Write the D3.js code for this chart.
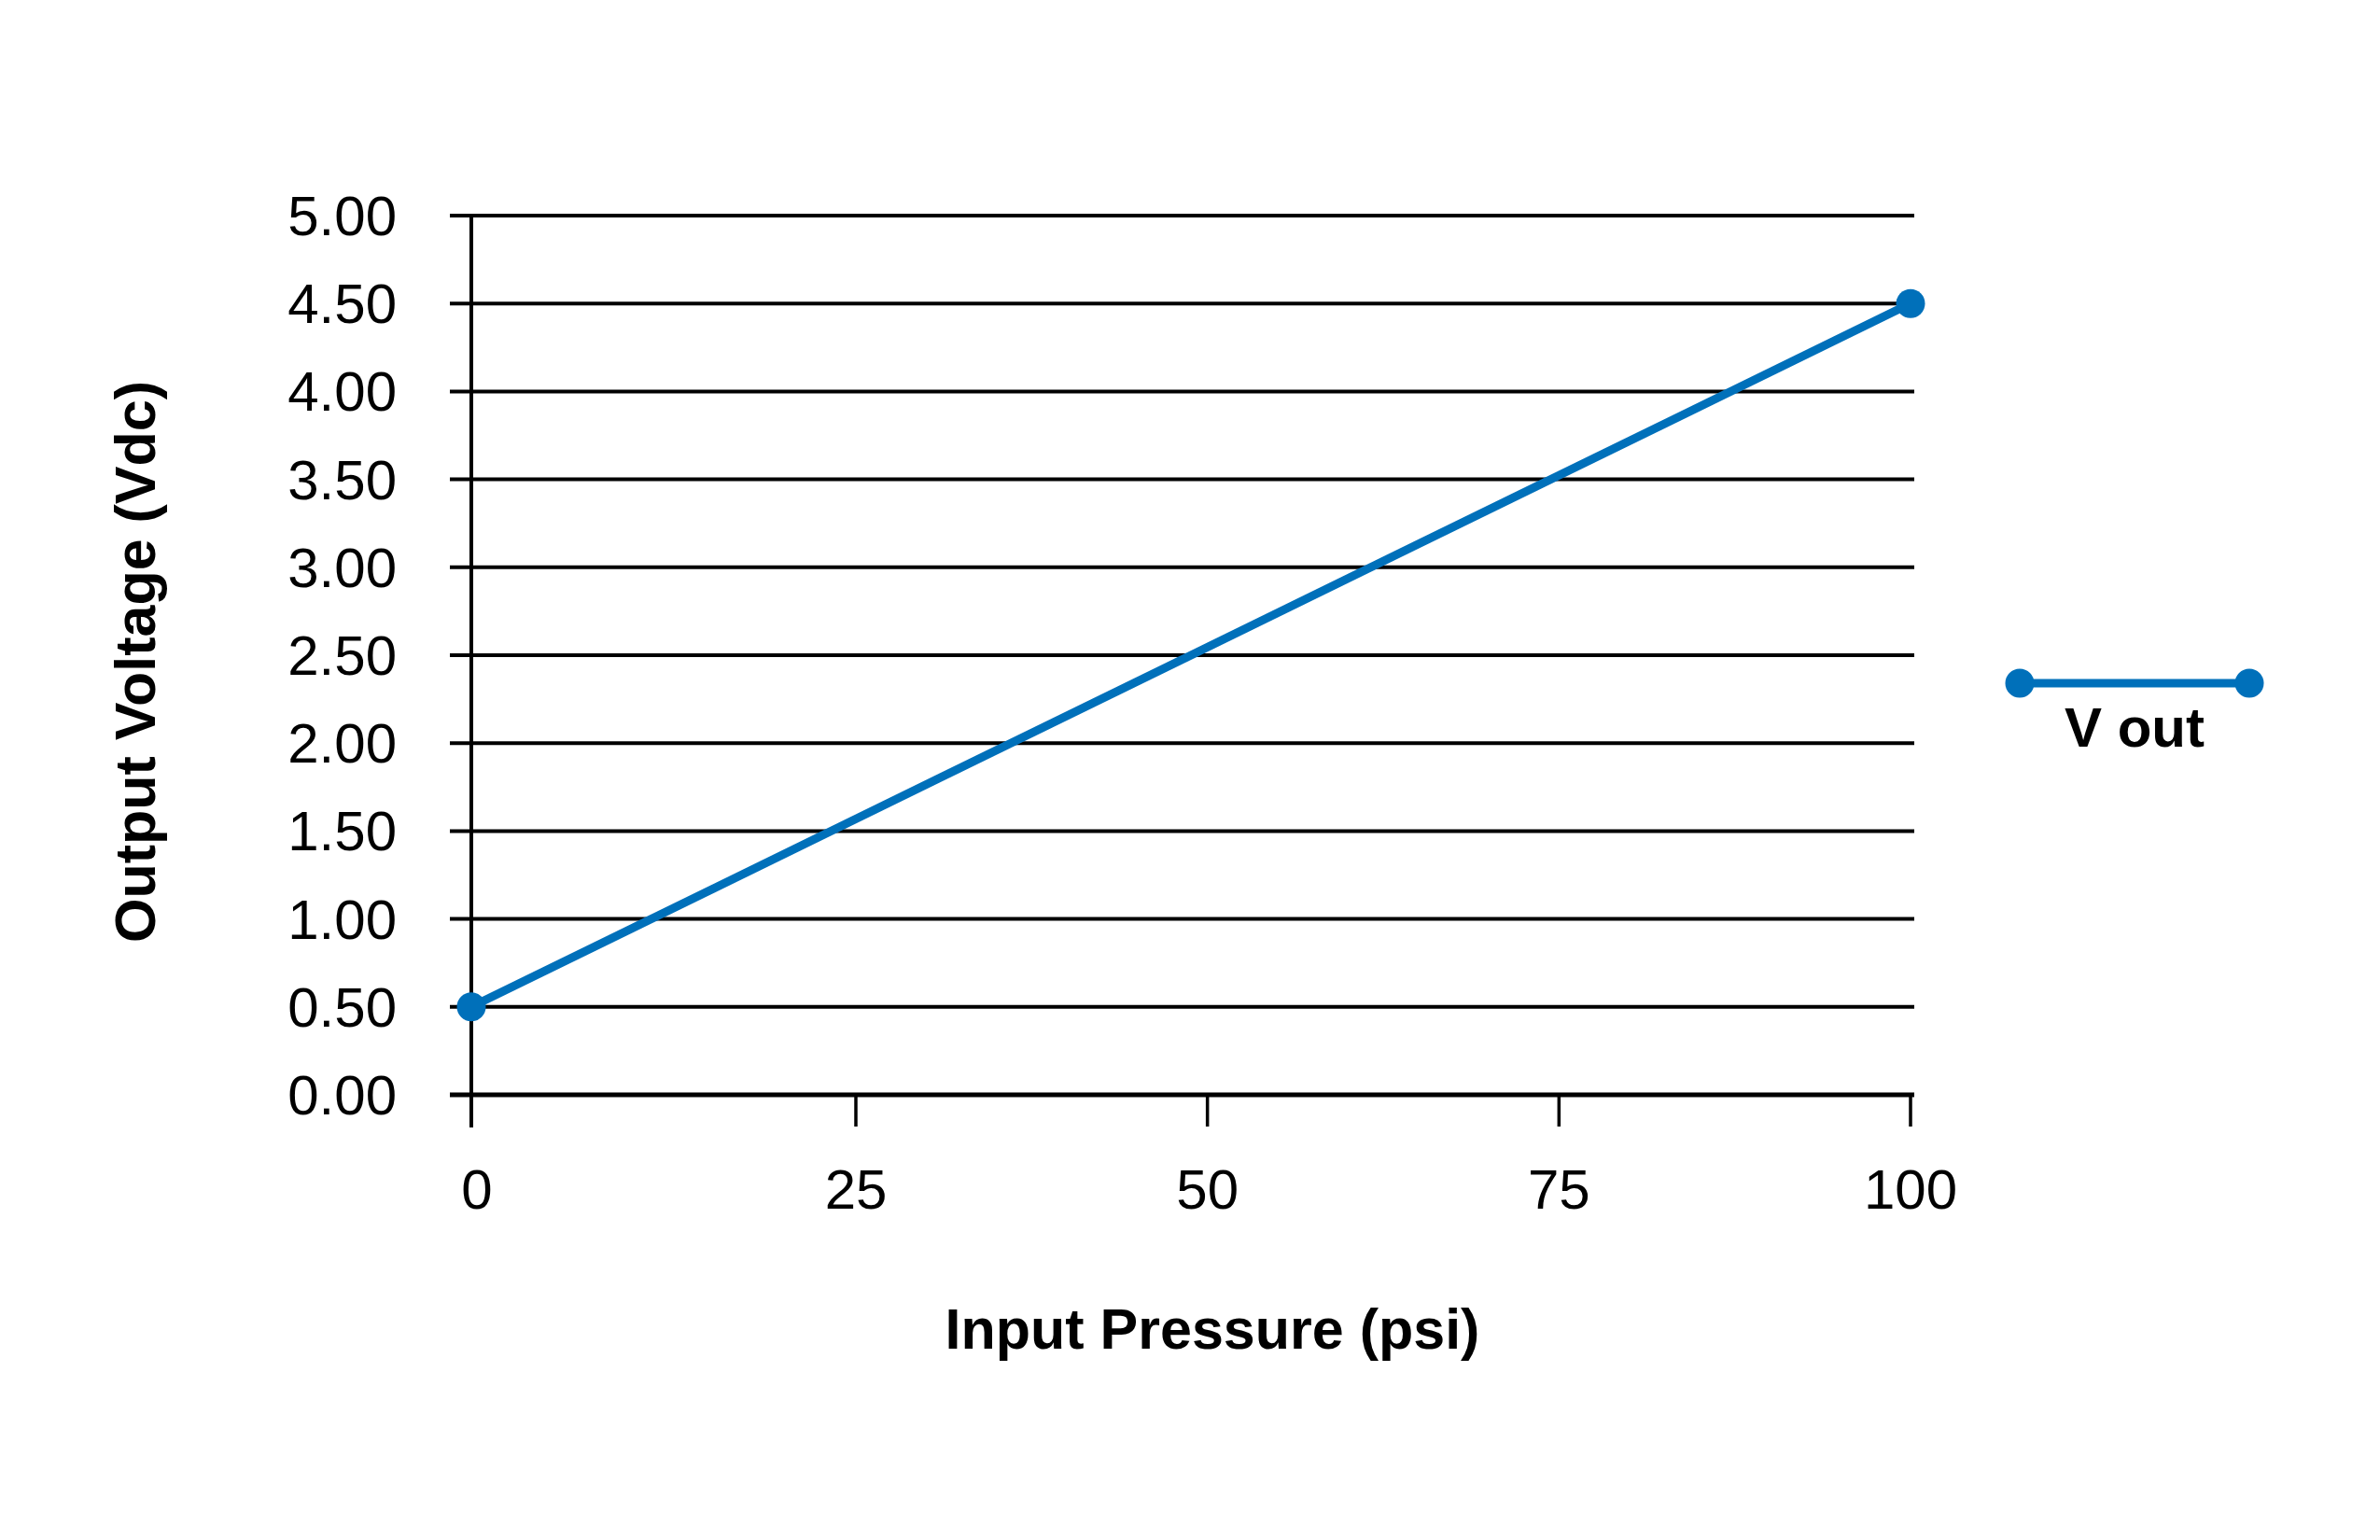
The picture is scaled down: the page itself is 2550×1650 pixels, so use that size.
<!DOCTYPE html>
<html><head><meta charset="utf-8">
<script src="https://cdn.jsdelivr.net/npm/d3@7"></script>
<style>body{margin:0;background:#fff}</style>
</head><body>
<svg id="chart" width="2550" height="1650" xmlns="http://www.w3.org/2000/svg"></svg>
<script>
const pressure = [0, 100];
const voltage = [0.5, 4.5];
const xTicks = [0, 25, 50, 75, 100];
const yTicks = [0, 0.5, 1, 1.5, 2, 2.5, 3, 3.5, 4, 4.5, 5];
const seriesName = "V out";
const xTitle = "Input Pressure (psi)";
const yTitle = "Output Voltage (Vdc)";

const FONT = "'Liberation Sans', Arial, Helvetica, sans-serif";
const BLUE = "#0070BA";
const svg = d3.select("#chart");
svg.append("rect").attr("width", 2550).attr("height", 1650).attr("fill", "#fff");

const x = d3.scaleLinear().domain([0, 25, 100]).range([505, 917, 2047]);
const y = d3.scaleLinear().domain([0, 5]).range([1173, 231]);
const gridLeft = 482, gridRight = 2051;

// gridlines
svg.append("g").selectAll("line").data(yTicks).join("line")
  .attr("x1", gridLeft).attr("x2", gridRight)
  .attr("y1", d => y(d)).attr("y2", d => y(d))
  .attr("stroke", "#000").attr("stroke-width", d => d === 0 ? 5 : 4);

// y axis line
svg.append("line").attr("x1", x(0)).attr("x2", x(0))
  .attr("y1", y(5)).attr("y2", y(0) + 35)
  .attr("stroke", "#000").attr("stroke-width", 4);

// x ticks
svg.append("g").selectAll("line").data(xTicks.slice(1)).join("line")
  .attr("x1", d => x(d)).attr("x2", d => x(d))
  .attr("y1", y(0)).attr("y2", y(0) + 34)
  .attr("stroke", "#000").attr("stroke-width", 3.5);

// y labels
const fmt = d3.format(".2f");
svg.append("g").selectAll("text").data(yTicks).join("text")
  .attr("x", 425).attr("y", d => y(d) + 21)
  .attr("text-anchor", "end")
  .attr("font-family", FONT).attr("font-size", 60).attr("fill", "#000")
  .text(d => fmt(d));

// x labels
svg.append("g").selectAll("text").data(xTicks).join("text")
  .attr("x", d => x(d) + (d === 0 ? 6 : 0)).attr("y", 1295)
  .attr("text-anchor", "middle")
  .attr("font-family", FONT).attr("font-size", 60).attr("fill", "#000")
  .text(d => d);

// series
const pts = pressure.map((p, i) => [p, voltage[i]]);
svg.append("path").datum(pts)
  .attr("d", d3.line().x(d => x(d[0])).y(d => y(d[1])))
  .attr("fill", "none").attr("stroke", BLUE).attr("stroke-width", 9);
svg.append("g").selectAll("circle").data(pts).join("circle")
  .attr("cx", d => x(d[0])).attr("cy", d => y(d[1])).attr("r", 15.5)
  .attr("fill", BLUE);

// legend
const lg = svg.append("g");
lg.append("line").attr("x1", 2164).attr("x2", 2410).attr("y1", 732).attr("y2", 732)
  .attr("stroke", BLUE).attr("stroke-width", 9);
lg.selectAll("circle").data([2164, 2410]).join("circle")
  .attr("cx", d => d).attr("cy", 732).attr("r", 15.5).attr("fill", BLUE);
lg.append("text").attr("x", 2287).attr("y", 800).attr("text-anchor", "middle")
  .attr("font-family", FONT).attr("font-weight", "bold").attr("font-size", 60)
  .attr("fill", "#000").text(seriesName);

// axis titles
svg.append("text").attr("x", 1299).attr("y", 1445).attr("text-anchor", "middle")
  .attr("font-family", FONT).attr("font-weight", "bold").attr("font-size", 61)
  .attr("fill", "#000").text(xTitle);
svg.append("text").attr("transform", "translate(166,709) rotate(-90)")
  .attr("text-anchor", "middle")
  .attr("font-family", FONT).attr("font-weight", "bold").attr("font-size", 61)
  .attr("fill", "#000").text(yTitle);
</script>
</body></html>
